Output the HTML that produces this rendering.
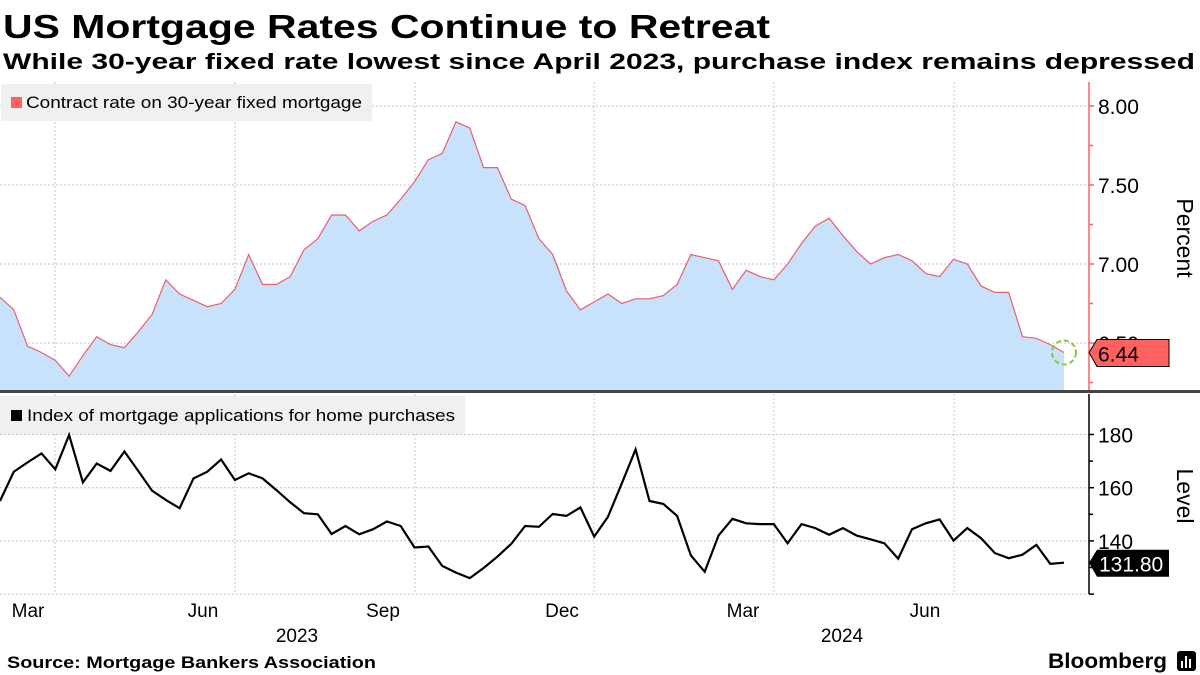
<!DOCTYPE html>
<html><head><meta charset="utf-8">
<style>
html,body{margin:0;padding:0;background:#fff;width:1200px;height:675px;overflow:hidden}
svg{display:block;font-family:"Liberation Sans",Arial,sans-serif}
</style></head>
<body>
<svg id="chart" width="1200" height="675" viewBox="0 0 1200 675" xmlns="http://www.w3.org/2000/svg">
<text x="3" y="38" font-size="33" font-weight="bold" fill="#000" textLength="767" lengthAdjust="spacingAndGlyphs">US Mortgage Rates Continue to Retreat</text>
<text x="3" y="69" font-size="22" font-weight="bold" fill="#000" textLength="1192" lengthAdjust="spacingAndGlyphs">While 30-year fixed rate lowest since April 2023, purchase index remains depressed</text>
<g id="topPanel"></g>
<g id="botPanel"></g>
<text x="7" y="668" font-size="17" font-weight="bold" fill="#000" textLength="369" lengthAdjust="spacingAndGlyphs">Source: Mortgage Bankers Association</text>
<text x="1048" y="668" font-size="21" font-weight="bold" fill="#000" textLength="119" lengthAdjust="spacingAndGlyphs">Bloomberg</text>
<g><rect x="1177" y="651" width="19" height="20" rx="3" fill="#000"/><rect x="1181" y="661" width="2" height="7" fill="#fff"/><rect x="1185" y="656" width="2" height="12" fill="#fff"/><rect x="1189" y="659" width="2" height="9" fill="#fff"/></g>
</svg>
<script>
const rateValues=[6.79,6.71,6.48,6.44,6.39,6.29,6.42,6.54,6.49,6.47,6.57,6.68,6.90,6.81,6.77,6.73,6.75,6.84,7.06,6.87,6.87,6.92,7.09,7.16,7.31,7.31,7.21,7.27,7.31,7.41,7.52,7.66,7.70,7.90,7.86,7.61,7.61,7.41,7.37,7.16,
7.06,6.83,6.71,6.76,6.81,6.75,6.78,6.78,6.80,6.87,7.06,7.04,7.02,6.84,6.96,6.92,6.90,7.00,7.13,7.24,7.29,7.18,7.08,7.00,7.04,7.06,7.02,6.94,6.92,7.03,7.00,6.86,6.82,6.82,6.54,6.53,6.49,6.44];
const indexValues=[155.0,166.0,169.5,172.9,166.9,179.8,162.0,169.1,166.3,173.6,166.3,158.9,155.4,152.3,163.5,166.0,170.6,162.9,165.4,163.5,159.1,154.5,150.4,150.0,142.6,145.6,142.5,144.4,147.3,145.6,137.5,137.9,130.6,128.1,126.0,129.8,134.1,138.9,145.6,145.3,150.1,149.4,152.6,141.6,
149.1,161.6,174.4,155.0,153.9,149.4,134.5,128.4,142.0,148.3,146.6,146.3,146.3,139.1,146.3,144.8,142.3,144.8,142.0,140.6,139.1,133.3,144.4,146.6,148.1,140.1,144.8,141.0,135.4,133.5,134.8,138.5,131.4,131.8];
const rateTicks=[8.00,7.50,7.00,6.50];
const indexTicks=[180,160,140];
const monthLabels=["Mar","Jun","Sep","Dec","Mar","Jun"];
const yearLabels=["2023","2024"];
const rateLast="6.44";
const indexLast="131.80";

{
const NS="http://www.w3.org/2000/svg";
function mk(parent,tag,attrs,text){const e=document.createElementNS(NS,tag);for(const k in attrs)e.setAttribute(k,attrs[k]);if(text!==undefined)e.textContent=text;parent.appendChild(e);return e;}
const topG=document.getElementById('topPanel'),botG=document.getElementById('botPanel');
const N=rateValues.length;
const xEnd=1064;
function xS(i){return i*xEnd/(N-1);}
function yR(v){return 106+(8-v)*158;}
function yI(v){return 434.5+(180-v)*2.66;}
const axisX=1089;
const gridX=[55,235,415,594,774,954];

gridX.forEach(gx=>{const l=mk(topG,'line',{x1:gx,y1:82,x2:gx,y2:390,stroke:'#c4c4c4','stroke-dasharray':'2,2'});

});
rateTicks.forEach(t=>{const l=mk(topG,'line',{x1:0,y1:yR(t),x2:axisX,y2:yR(t),stroke:'#c4c4c4','stroke-dasharray':'2,2'});

});
let d='M'+xS(0)+',390';
rateValues.forEach((v,i)=>{d+=' L'+xS(i).toFixed(1)+','+yR(v).toFixed(1);});
d+=' L'+xS(N-1)+',390 Z';
const area=mk(topG,'path',{d:d,fill:'#c9e2fc'});


let ld='';
rateValues.forEach((v,i)=>{ld+=(i?' L':'M')+xS(i).toFixed(1)+','+yR(v).toFixed(1);});
const rl=mk(topG,'path',{d:ld,fill:'none',stroke:'#e8606e','stroke-width':1.2});


const lg=mk(topG,'g',{});


mk(lg,'rect',{x:1,y:84,width:371,height:37,fill:'#f0f0f0'});
mk(lg,'rect',{x:11,y:97,width:11,height:11,fill:'#ff6060'});
mk(lg,'text',{x:26,y:108,'font-size':17,fill:'#000',textLength:336,lengthAdjust:'spacingAndGlyphs'},'Contract rate on 30-year fixed mortgage');
mk(topG,'line',{x1:axisX,y1:82,x2:axisX,y2:390,stroke:'#ff6060','stroke-width':1.5});
rateTicks.forEach(t=>{mk(topG,'line',{x1:axisX,y1:yR(t),x2:axisX+5,y2:yR(t),stroke:'#ff6060','stroke-width':1.5});
const tx=mk(topG,'text',{x:1098,y:yR(t)+8,'font-size':21,fill:'#000'},t.toFixed(2));

});
[7.75,7.25,6.75,6.25].forEach(t=>mk(topG,'line',{x1:axisX,y1:yR(t),x2:axisX+4,y2:yR(t),stroke:'#ff6060','stroke-width':1.5}));
const pt=mk(topG,'text',{x:0,y:0,'font-size':23,fill:'#000',transform:'translate(1177,238) rotate(90)','text-anchor':'middle'},'Percent');


const lr=yR(rateValues[N-1]);
const c=mk(topG,'circle',{cx:xS(N-1),cy:lr,r:12,fill:'none',stroke:'#8cc63f','stroke-width':2,'stroke-dasharray':'5,3'});


const bg=mk(topG,'g',{});


mk(bg,'path',{d:`M${axisX},${lr} L${axisX+8},${lr-13} L1169,${lr-13} L1169,${lr+14} L${axisX+8},${lr+14} Z`,fill:'#ff6060',stroke:'#000','stroke-width':1});
mk(bg,'text',{x:1098,y:lr+9,'font-size':21,fill:'#000'},rateLast);

mk(topG,'rect',{x:0,y:390,width:1200,height:3,fill:'#444'});

gridX.forEach(gx=>{const l=mk(botG,'line',{x1:gx,y1:394,x2:gx,y2:594,stroke:'#c4c4c4','stroke-dasharray':'2,2'});

});
indexTicks.concat([120]).forEach(t=>{const l=mk(botG,'line',{x1:0,y1:yI(t),x2:axisX,y2:yI(t),stroke:'#c4c4c4','stroke-dasharray':'2,2'});

});
const lg2=mk(botG,'g',{});


mk(lg2,'rect',{x:0,y:396,width:465,height:38,fill:'#f0f0f0'});
mk(lg2,'rect',{x:11,y:410,width:11,height:11,fill:'#000'});
mk(lg2,'text',{x:27,y:421,'font-size':17,fill:'#000',textLength:428,lengthAdjust:'spacingAndGlyphs'},'Index of mortgage applications for home purchases');
let id='';
indexValues.forEach((v,i)=>{id+=(i?' L':'M')+xS(i).toFixed(1)+','+yI(v).toFixed(1);});
const il=mk(botG,'path',{d:id,fill:'none',stroke:'#000','stroke-width':2.2});


mk(botG,'line',{x1:axisX,y1:394,x2:axisX,y2:594,stroke:'#000','stroke-width':1.5});
indexTicks.concat([120]).forEach(t=>mk(botG,'line',{x1:axisX,y1:yI(t),x2:axisX+5,y2:yI(t),stroke:'#000','stroke-width':1.5}));
[170,150,130].forEach(t=>mk(botG,'line',{x1:axisX,y1:yI(t),x2:axisX+4,y2:yI(t),stroke:'#000','stroke-width':1.5}));
indexTicks.forEach(t=>{const tx=mk(botG,'text',{x:1098,y:yI(t)+8,'font-size':21,fill:'#000'},String(t));

});
const lt=mk(botG,'text',{x:0,y:0,'font-size':23,fill:'#000',transform:'translate(1177,496) rotate(90)','text-anchor':'middle'},'Level');


const li=yI(indexValues[N-1]);
const bg2=mk(botG,'g',{});


mk(bg2,'path',{d:`M${axisX},${li} L${axisX+8},${li-13} L1169,${li-13} L1169,${li+14} L${axisX+8},${li+14} Z`,fill:'#000'});
mk(bg2,'text',{x:1099,y:li+9,'font-size':21,fill:'#fff'},indexLast);

const monthX=[28,203,383,562,743,925];
monthLabels.forEach((m,i)=>{const t=mk(botG,'text',{x:monthX[i],y:617,'font-size':19,fill:'#000','text-anchor':'middle'},m);

});
const yearX=[297,842];
yearLabels.forEach((y,i)=>{const t=mk(botG,'text',{x:yearX[i],y:642,'font-size':19,fill:'#000','text-anchor':'middle'},y);

});
}
</script>
</body></html>
